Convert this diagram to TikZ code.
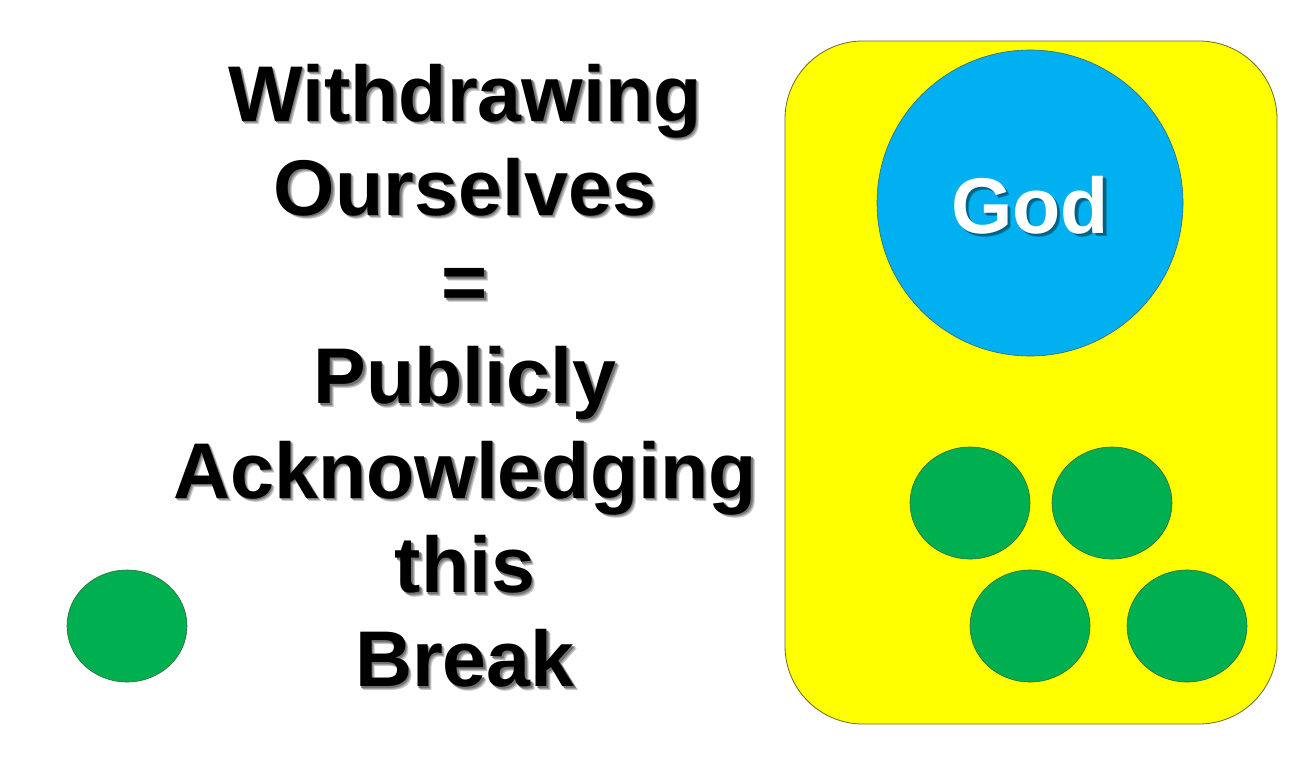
\documentclass[tikz,border=0pt]{standalone}
\usepackage{fontspec}
\setmainfont{Liberation Sans}
\usetikzlibrary{shapes.geometric}
\definecolor{boxyellow}{HTML}{FFFF00}
\definecolor{boxedge}{HTML}{6B6B2A}
\definecolor{godblue}{HTML}{00B0F0}
\definecolor{godedge}{HTML}{2E6A80}
\definecolor{dotgreen}{HTML}{00B050}
\definecolor{dotedge}{HTML}{2E6B3A}
\newcommand{\shlayer}[3]{\makebox[0pt][l]{\hspace{#1pt}\raisebox{-#1pt}{\color{#2}#3}}}
\newcommand{\shtext}[3]{\shlayer{3.5}{#2!22!#1}{#3}\shlayer{2.5}{#2!38!#1}{#3}\shlayer{1.5}{#2!55!#1}{#3}{\color{#2}#3}}
\tikzset{
  bigtext/.style={font=\fontsize{79}{94}\selectfont\bfseries, anchor=base, inner sep=0pt},
  dot/.style={ellipse, fill=dotgreen, draw=dotedge, line width=0.6pt, minimum width=120pt, minimum height=112pt, inner sep=0pt},
}
\begin{document}
\begin{tikzpicture}[x=1pt, y=-1pt]
\useasboundingbox (0,0) rectangle (1297,766);
\fill[white] (0,0) rectangle (1297,766);
% yellow box
\draw[fill=boxyellow, draw=boxedge, line width=0.8pt, rounded corners=78pt] (785,41) rectangle (1277,724);
% God circle
\node[circle, fill=godblue, draw=godedge, line width=0.6pt, minimum size=306pt, inner sep=0pt] (god) at (1030,203) {};
\node[bigtext] (godlabel) at (1030,233) {\shlayer{3.5}{godblue!70!black}{God}\shlayer{2.5}{godblue!55!black}{God}{\color{white}God}};
% green dots
\node[dot] (g1) at (970,503) {};
\node[dot] (g2) at (1112,503) {};
\node[dot] (g3) at (1030,626) {};
\node[dot] (g4) at (1187,626) {};
\node[dot] (g0) at (127,626) {};
% text lines
\foreach \t [count=\i] in {Withdrawing, Ourselves, =, Publicly, Acknowledging, this, Break}{
  \pgfmathsetmacro{\yy}{121+94.33*(\i-1)}
  \node[bigtext] (line\i) at (465,\yy) {\shtext{white}{black}{\t}};
}
\end{tikzpicture}
\end{document}
